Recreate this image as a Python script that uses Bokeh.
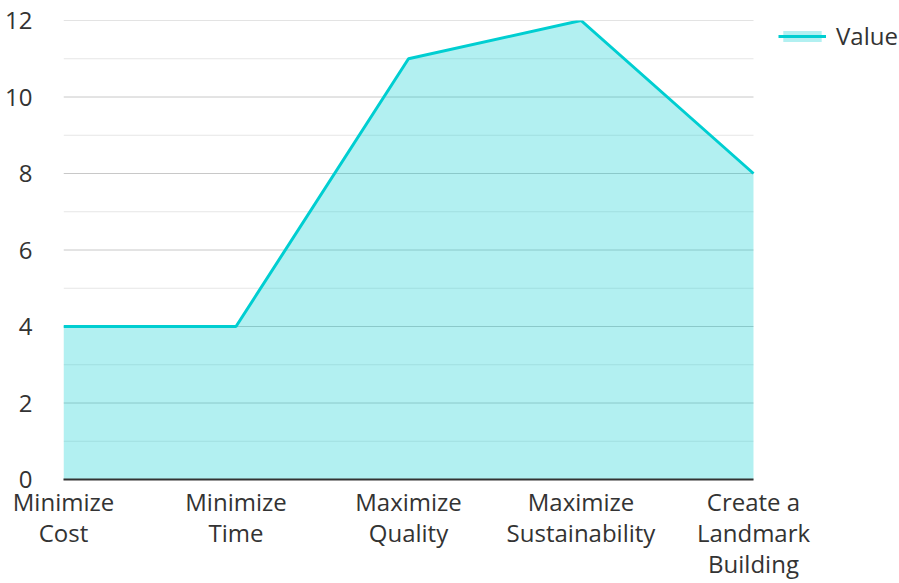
from bokeh.plotting import figure
from bokeh.models import Range1d, FixedTicker, Legend, LegendItem, ColumnDataSource
from bokeh.embed import file_html
from bokeh.resources import INLINE

categories = ["Minimize Cost", "Minimize Time", "Maximize Quality", "Maximize Sustainability", "Create a Landmark Building"]
tick_labels = ["Minimize\nCost", "Minimize\nTime", "Maximize\nQuality", "Maximize\nSustainability", "Create a\nLandmark\nBuilding"]
values = [4, 4, 11, 12, 8]
series_name = "Value"
y_ticks = [0, 2, 4, 6, 8, 10, 12]
y_minor = [1, 3, 5, 7, 9, 11]

FONT = "Open Sans"
TXT = "#333333"
COLOR = "#00CED1"
W, H = 899, 583
LEFT, PLOT_RIGHT, TOP, BOTTOM = 63, 753, 20, 104

xs = list(range(len(categories)))
x_last = len(categories) - 1
# frame runs to the right edge of the canvas so the legend is not clipped;
# the data region ends at PLOT_RIGHT
x_end = x_last * (W - LEFT) / (PLOT_RIGHT - LEFT)
src = ColumnDataSource(dict(x=xs, y=values, y0=[0] * len(values)))

p = figure(width=W, height=H, output_backend="svg", toolbar_location=None,
           x_range=Range1d(0, x_end), y_range=Range1d(0, max(y_ticks)),
           min_border_left=LEFT, min_border_right=0, min_border_top=TOP, min_border_bottom=BOTTOM)
p.outline_line_color = None

# grid lines limited to the data region
p.xgrid.grid_line_color = None
p.ygrid.grid_line_color = None
p.ygrid.minor_grid_line_color = None
p.segment(x0=[0] * len(y_minor), x1=[x_last] * len(y_minor), y0=y_minor, y1=y_minor,
          line_color="#e6e6e6", line_width=1, level="underlay")
p.segment(x0=[0] * len(y_ticks), x1=[x_last] * len(y_ticks), y0=y_ticks, y1=y_ticks,
          line_color="#c8c8c8", line_width=1, level="underlay")

area = p.varea(x="x", y1="y0", y2="y", source=src, fill_color=COLOR, fill_alpha=0.3)
line = p.line(x="x", y="y", source=src, line_color=COLOR, line_width=3)

# axes
p.xaxis.ticker = FixedTicker(ticks=xs)
p.xaxis.bounds = (0, x_last)
p.xaxis.major_label_overrides = {i: t for i, t in enumerate(tick_labels)}
p.xaxis.axis_line_color = "#333333"
p.xaxis.axis_line_width = 2
p.xaxis.major_tick_line_color = None
p.xaxis.minor_tick_line_color = None
p.xaxis.major_label_standoff = -1
p.xaxis.major_label_text_font = FONT
p.xaxis.major_label_text_font_size = "24px"
p.xaxis.major_label_text_color = TXT
p.xaxis.major_label_text_line_height = 0.95

p.yaxis.ticker = FixedTicker(ticks=y_ticks, minor_ticks=y_minor)
p.yaxis.axis_line_color = None
p.yaxis.major_tick_line_color = None
p.yaxis.minor_tick_line_color = None
p.yaxis.major_label_standoff = 25
p.yaxis.major_label_text_font = FONT
p.yaxis.major_label_text_font_size = "24px"
p.yaxis.major_label_text_color = TXT

legend = Legend(items=[LegendItem(label=series_name, renderers=[area, line])],
                location=(715, 427), orientation="vertical")
legend.border_line_color = None
legend.background_fill_alpha = 0
legend.margin = 0
legend.padding = 0
legend.glyph_width = 48
legend.glyph_height = 14
legend.label_standoff = 10
legend.label_text_font = FONT
legend.label_text_font_size = "24px"
legend.label_text_color = TXT
p.add_layout(legend)

open("out.html", "w").write(file_html(p, INLINE))
